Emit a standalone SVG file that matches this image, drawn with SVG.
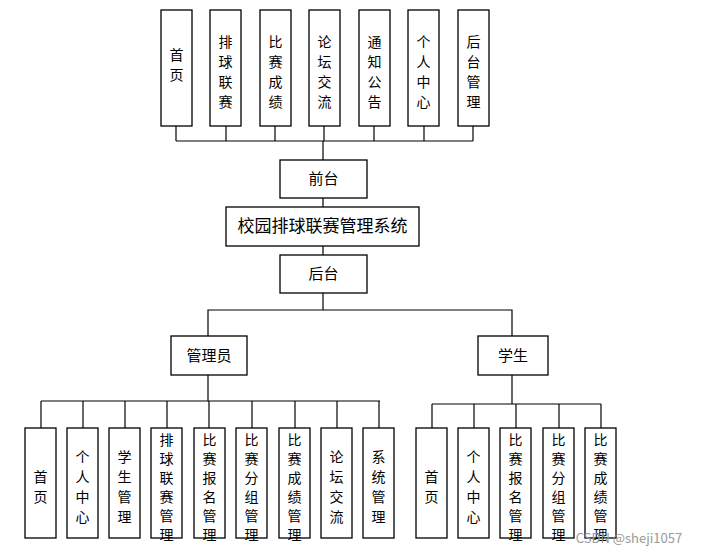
<svg xmlns="http://www.w3.org/2000/svg" width="705" height="555" viewBox="0 0 705 555">
<style>
.n rect{fill:#fff;stroke:#000;stroke-width:1.3}
.c line,.c polyline{stroke:#000;stroke-width:1.2;fill:none}
text{font-family:"Noto Sans CJK SC","Liberation Sans",sans-serif;font-size:14px;text-anchor:middle;fill:#000}
.h{font-size:15px}
</style>
<rect width="705" height="555" fill="#fff"/>
<g class="c">
<line x1="176" y1="126" x2="176" y2="141"/><line x1="226" y1="126" x2="226" y2="141"/><line x1="275" y1="126" x2="275" y2="141"/><line x1="324" y1="126" x2="324" y2="141"/><line x1="374" y1="126" x2="374" y2="141"/><line x1="424" y1="126" x2="424" y2="141"/><line x1="473" y1="126" x2="473" y2="141"/>
<line x1="176" y1="141" x2="473" y2="141"/>
<line x1="323" y1="141" x2="323" y2="160"/>
<line x1="323" y1="198" x2="323" y2="207"/>
<line x1="323" y1="246" x2="323" y2="255"/>
<line x1="323" y1="293" x2="323" y2="310"/>
<polyline points="208,336 208,310 512,310 512,336"/>
<line x1="208" y1="375" x2="208" y2="401"/>
<line x1="41" y1="401" x2="380" y2="401"/>
<line x1="41" y1="401" x2="41" y2="428"/><line x1="83" y1="401" x2="83" y2="428"/><line x1="125" y1="401" x2="125" y2="428"/><line x1="167" y1="401" x2="167" y2="428"/><line x1="209" y1="401" x2="209" y2="428"/><line x1="252" y1="401" x2="252" y2="428"/><line x1="295" y1="401" x2="295" y2="428"/><line x1="337" y1="401" x2="337" y2="428"/><line x1="379" y1="401" x2="379" y2="428"/>
<line x1="512" y1="375" x2="512" y2="404"/>
<line x1="432" y1="404" x2="601" y2="404"/>
<line x1="432" y1="404" x2="432" y2="428"/><line x1="474" y1="404" x2="474" y2="428"/><line x1="516" y1="404" x2="516" y2="428"/><line x1="559" y1="404" x2="559" y2="428"/><line x1="601" y1="404" x2="601" y2="428"/>
</g>
<g class="n">
<g id="t1"><rect x="161" y="10" width="31" height="116"/><text><tspan x="176.5" y="60">首</tspan><tspan x="176.5" y="80">页</tspan></text></g>
<g id="t2"><rect x="210" y="10" width="31" height="116"/><text><tspan x="225.5" y="47">排</tspan><tspan x="225.5" y="67">球</tspan><tspan x="225.5" y="87">联</tspan><tspan x="225.5" y="107">赛</tspan></text></g>
<g id="t3"><rect x="260" y="10" width="31" height="116"/><text><tspan x="275.5" y="47">比</tspan><tspan x="275.5" y="67">赛</tspan><tspan x="275.5" y="87">成</tspan><tspan x="275.5" y="107">绩</tspan></text></g>
<g id="t4"><rect x="309" y="10" width="31" height="116"/><text><tspan x="324.5" y="47">论</tspan><tspan x="324.5" y="67">坛</tspan><tspan x="324.5" y="87">交</tspan><tspan x="324.5" y="107">流</tspan></text></g>
<g id="t5"><rect x="359" y="10" width="31" height="116"/><text><tspan x="374.5" y="47">通</tspan><tspan x="374.5" y="67">知</tspan><tspan x="374.5" y="87">公</tspan><tspan x="374.5" y="107">告</tspan></text></g>
<g id="t6"><rect x="408" y="10" width="31" height="116"/><text><tspan x="423.5" y="47">个</tspan><tspan x="423.5" y="67">人</tspan><tspan x="423.5" y="87">中</tspan><tspan x="423.5" y="107">心</tspan></text></g>
<g id="t7"><rect x="458" y="10" width="31" height="116"/><text><tspan x="473.5" y="47">后</tspan><tspan x="473.5" y="67">台</tspan><tspan x="473.5" y="87">管</tspan><tspan x="473.5" y="107">理</tspan></text></g>
<g id="front"><rect x="280" y="160" width="87" height="38"/><text class="h" x="323.5" y="184">前台</text></g>
<g id="sys"><rect x="226" y="207" width="193" height="39"/><text x="322.5" y="232" style="font-family:'Noto Sans CJK SC',serif;font-size:17px">校园排球联赛管理系统</text></g>
<g id="back"><rect x="280" y="255" width="87" height="38"/><text class="h" x="323.5" y="279">后台</text></g>
<g id="admin"><rect x="171" y="336" width="76" height="39"/><text class="h" x="209" y="361">管理员</text></g>
<g id="student"><rect x="478" y="336" width="70" height="39"/><text class="h" x="513" y="361">学生</text></g>
<g id="a1"><rect x="25" y="428" width="31" height="110"/><text><tspan x="40.5" y="482">首</tspan><tspan x="40.5" y="502">页</tspan></text></g>
<g id="a2"><rect x="67" y="428" width="31" height="110"/><text><tspan x="82.5" y="462">个</tspan><tspan x="82.5" y="482">人</tspan><tspan x="82.5" y="502">中</tspan><tspan x="82.5" y="522">心</tspan></text></g>
<g id="a3"><rect x="109" y="428" width="31" height="110"/><text><tspan x="124.5" y="462">学</tspan><tspan x="124.5" y="482">生</tspan><tspan x="124.5" y="502">管</tspan><tspan x="124.5" y="522">理</tspan></text></g>
<g id="a4"><rect x="151" y="428" width="31" height="110"/><text><tspan x="166.5" y="445">排</tspan><tspan x="166.5" y="464">球</tspan><tspan x="166.5" y="483">联</tspan><tspan x="166.5" y="502">赛</tspan><tspan x="166.5" y="521">管</tspan><tspan x="166.5" y="540">理</tspan></text></g>
<g id="a5"><rect x="194" y="428" width="31" height="110"/><text><tspan x="209.5" y="445">比</tspan><tspan x="209.5" y="464">赛</tspan><tspan x="209.5" y="483">报</tspan><tspan x="209.5" y="502">名</tspan><tspan x="209.5" y="521">管</tspan><tspan x="209.5" y="540">理</tspan></text></g>
<g id="a6"><rect x="236" y="428" width="31" height="110"/><text><tspan x="251.5" y="445">比</tspan><tspan x="251.5" y="464">赛</tspan><tspan x="251.5" y="483">分</tspan><tspan x="251.5" y="502">组</tspan><tspan x="251.5" y="521">管</tspan><tspan x="251.5" y="540">理</tspan></text></g>
<g id="a7"><rect x="279" y="428" width="31" height="110"/><text><tspan x="294.5" y="445">比</tspan><tspan x="294.5" y="464">赛</tspan><tspan x="294.5" y="483">成</tspan><tspan x="294.5" y="502">绩</tspan><tspan x="294.5" y="521">管</tspan><tspan x="294.5" y="540">理</tspan></text></g>
<g id="a8"><rect x="321" y="428" width="31" height="110"/><text><tspan x="336.5" y="462">论</tspan><tspan x="336.5" y="482">坛</tspan><tspan x="336.5" y="502">交</tspan><tspan x="336.5" y="522">流</tspan></text></g>
<g id="a9"><rect x="363" y="428" width="31" height="110"/><text><tspan x="378.5" y="462">系</tspan><tspan x="378.5" y="482">统</tspan><tspan x="378.5" y="502">管</tspan><tspan x="378.5" y="522">理</tspan></text></g>
<g id="s1"><rect x="416" y="428" width="31" height="110"/><text><tspan x="431.5" y="482">首</tspan><tspan x="431.5" y="502">页</tspan></text></g>
<g id="s2"><rect x="458" y="428" width="31" height="110"/><text><tspan x="473.5" y="462">个</tspan><tspan x="473.5" y="482">人</tspan><tspan x="473.5" y="502">中</tspan><tspan x="473.5" y="522">心</tspan></text></g>
<g id="s3"><rect x="500" y="428" width="31" height="110"/><text><tspan x="515.5" y="445">比</tspan><tspan x="515.5" y="464">赛</tspan><tspan x="515.5" y="483">报</tspan><tspan x="515.5" y="502">名</tspan><tspan x="515.5" y="521">管</tspan><tspan x="515.5" y="540">理</tspan></text></g>
<g id="s4"><rect x="543" y="428" width="31" height="110"/><text><tspan x="558.5" y="445">比</tspan><tspan x="558.5" y="464">赛</tspan><tspan x="558.5" y="483">分</tspan><tspan x="558.5" y="502">组</tspan><tspan x="558.5" y="521">管</tspan><tspan x="558.5" y="540">理</tspan></text></g>
<g id="s5"><rect x="585" y="428" width="31" height="110"/><text><tspan x="600.5" y="445">比</tspan><tspan x="600.5" y="464">赛</tspan><tspan x="600.5" y="483">成</tspan><tspan x="600.5" y="502">绩</tspan><tspan x="600.5" y="521">管</tspan><tspan x="600.5" y="540">理</tspan></text></g>
</g>
<text x="629" y="543" style="font-size:13px;fill:#999">CSDN @sheji1057</text>
</svg>
